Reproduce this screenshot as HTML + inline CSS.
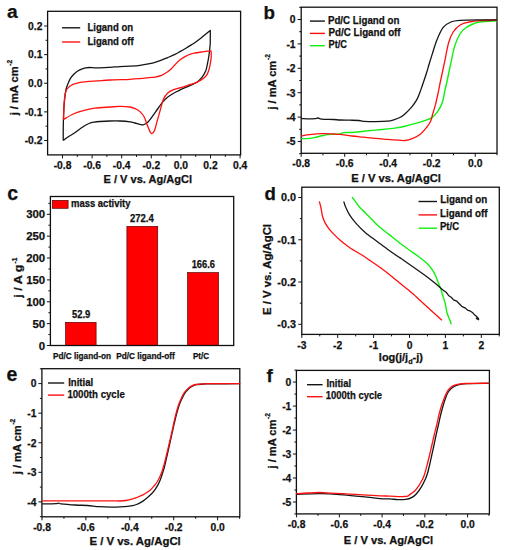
<!DOCTYPE html><html><head><meta charset="utf-8"><style>html,body{margin:0;padding:0;background:#fff;width:507px;height:550px;overflow:hidden}svg{display:block}text{font-family:"Liberation Sans",sans-serif;fill:#111;stroke:#111;stroke-width:0.25px}</style></head><body>
<svg width="507" height="550" viewBox="0 0 507 550">
<rect width="507" height="550" fill="#fff"/>
<text x="7" y="18.2" font-size="19.2" font-weight="bold" text-anchor="start" >a</text>
<rect x="47.6" y="11.3" width="193" height="143.6" fill="none" stroke="#111" stroke-width="1.3"/>
<line x1="62.5" y1="154.9" x2="62.5" y2="158.4" stroke="#111" stroke-width="1.0"/>
<line x1="92.1" y1="154.9" x2="92.1" y2="158.4" stroke="#111" stroke-width="1.0"/>
<line x1="121.7" y1="154.9" x2="121.7" y2="158.4" stroke="#111" stroke-width="1.0"/>
<line x1="151.3" y1="154.9" x2="151.3" y2="158.4" stroke="#111" stroke-width="1.0"/>
<line x1="180.9" y1="154.9" x2="180.9" y2="158.4" stroke="#111" stroke-width="1.0"/>
<line x1="210.5" y1="154.9" x2="210.5" y2="158.4" stroke="#111" stroke-width="1.0"/>
<line x1="240.1" y1="154.9" x2="240.1" y2="158.4" stroke="#111" stroke-width="1.0"/>
<line x1="77.3" y1="154.9" x2="77.3" y2="156.9" stroke="#111" stroke-width="1.0"/>
<line x1="106.9" y1="154.9" x2="106.9" y2="156.9" stroke="#111" stroke-width="1.0"/>
<line x1="136.5" y1="154.9" x2="136.5" y2="156.9" stroke="#111" stroke-width="1.0"/>
<line x1="166.1" y1="154.9" x2="166.1" y2="156.9" stroke="#111" stroke-width="1.0"/>
<line x1="195.7" y1="154.9" x2="195.7" y2="156.9" stroke="#111" stroke-width="1.0"/>
<line x1="225.3" y1="154.9" x2="225.3" y2="156.9" stroke="#111" stroke-width="1.0"/>
<line x1="44.1" y1="140.5" x2="47.6" y2="140.5" stroke="#111" stroke-width="1.0"/>
<line x1="44.1" y1="111.88" x2="47.6" y2="111.88" stroke="#111" stroke-width="1.0"/>
<line x1="44.1" y1="83.25" x2="47.6" y2="83.25" stroke="#111" stroke-width="1.0"/>
<line x1="44.1" y1="54.62" x2="47.6" y2="54.62" stroke="#111" stroke-width="1.0"/>
<line x1="44.1" y1="26" x2="47.6" y2="26" stroke="#111" stroke-width="1.0"/>
<line x1="45.6" y1="126.19" x2="47.6" y2="126.19" stroke="#111" stroke-width="1.0"/>
<line x1="45.6" y1="97.56" x2="47.6" y2="97.56" stroke="#111" stroke-width="1.0"/>
<line x1="45.6" y1="68.94" x2="47.6" y2="68.94" stroke="#111" stroke-width="1.0"/>
<line x1="45.6" y1="40.31" x2="47.6" y2="40.31" stroke="#111" stroke-width="1.0"/>
<text x="62.5" y="169" font-size="10.3" font-weight="bold" text-anchor="middle">-0.8</text>
<text x="92.1" y="169" font-size="10.3" font-weight="bold" text-anchor="middle">-0.6</text>
<text x="121.7" y="169" font-size="10.3" font-weight="bold" text-anchor="middle">-0.4</text>
<text x="151.3" y="169" font-size="10.3" font-weight="bold" text-anchor="middle">-0.2</text>
<text x="180.9" y="169" font-size="10.3" font-weight="bold" text-anchor="middle">0.0</text>
<text x="210.5" y="169" font-size="10.3" font-weight="bold" text-anchor="middle">0.2</text>
<text x="240.1" y="169" font-size="10.3" font-weight="bold" text-anchor="middle">0.4</text>
<text x="42.4" y="144.3" font-size="10.3" font-weight="bold" text-anchor="end">-0.2</text>
<text x="42.4" y="115.68" font-size="10.3" font-weight="bold" text-anchor="end">-0.1</text>
<text x="42.4" y="87.05" font-size="10.3" font-weight="bold" text-anchor="end">0.0</text>
<text x="42.4" y="58.42" font-size="10.3" font-weight="bold" text-anchor="end">0.1</text>
<text x="42.4" y="29.8" font-size="10.3" font-weight="bold" text-anchor="end">0.2</text>
<text x="147.8" y="183.1" font-size="10.6" font-weight="bold" text-anchor="middle" textLength="88.5" lengthAdjust="spacingAndGlyphs" >E / V vs. Ag/AgCl</text>
<g transform="translate(18 115.3) rotate(-90)">
<text x="0" y="0" font-size="10.8" font-weight="bold" textLength="48.8" lengthAdjust="spacingAndGlyphs">j / mA cm</text>
<text x="49.6" y="-6" font-size="6.6" font-weight="bold">-2</text>
</g>
<line x1="62.1" y1="27.8" x2="80.2" y2="27.8" stroke="#151515" stroke-width="1.4"/>
<line x1="62.1" y1="42" x2="80.2" y2="42" stroke="#ff1010" stroke-width="1.4"/>
<text x="87.5" y="31" font-size="10.2" font-weight="bold" text-anchor="start" textLength="45.6" lengthAdjust="spacingAndGlyphs" >Ligand on</text>
<text x="87.5" y="44.5" font-size="10.2" font-weight="bold" text-anchor="start" textLength="46.2" lengthAdjust="spacingAndGlyphs" >Ligand off</text>
<path d="M63.2 140.5 C63.22 137.92 63.2 130.08 63.3 125 C63.4 119.92 63.58 114.25 63.8 110 C64.02 105.75 64.25 102.83 64.6 99.5 C64.95 96.17 65.28 92.77 65.9 90 C66.52 87.23 67.52 84.88 68.3 82.9 C69.08 80.92 69.68 79.55 70.6 78.1 C71.52 76.65 72.62 75.38 73.8 74.2 C74.98 73.02 76.38 71.85 77.7 71 C79.02 70.15 80.38 69.62 81.7 69.1 C83.02 68.58 84.28 68.17 85.6 67.9 C86.92 67.63 87.63 67.5 89.6 67.5 C91.57 67.5 94 67.93 97.4 67.9 C100.8 67.87 106.23 67.52 110 67.3 C113.77 67.08 116.67 66.78 120 66.6 C123.33 66.42 126.67 66.4 130 66.2 C133.33 66 136.72 65.82 140 65.4 C143.28 64.98 147.2 64.2 149.7 63.7 C152.2 63.2 153.05 62.98 155 62.4 C156.95 61.82 159.28 61 161.4 60.2 C163.52 59.4 165.43 58.57 167.7 57.6 C169.97 56.63 172.88 55.43 175 54.4 C177.12 53.37 178.58 52.43 180.4 51.4 C182.22 50.37 184.08 49.28 185.9 48.2 C187.72 47.12 189.78 45.85 191.3 44.9 C192.82 43.95 193.32 43.7 195 42.5 C196.68 41.3 199.28 39.35 201.4 37.7 C203.52 36.05 206.22 33.8 207.7 32.6 C209.18 31.4 209.87 30.85 210.3 30.5 L210.3 30.5 C210.3 31.58 210.3 35.92 210.3 37 L210.3 37 C210.28 38.17 210.32 41.77 210.2 44 C210.08 46.23 209.83 48.32 209.6 50.4 C209.37 52.48 209.13 54.4 208.8 56.5 C208.47 58.6 208.08 60.67 207.6 63 C207.12 65.33 206.78 68.2 205.9 70.5 C205.02 72.8 203.82 74.83 202.3 76.8 C200.78 78.77 198.87 80.83 196.8 82.3 C194.73 83.77 192.58 84.37 189.9 85.6 C187.22 86.83 183.42 88.43 180.7 89.7 C177.98 90.97 175.8 91.93 173.6 93.2 C171.4 94.47 169.37 95.77 167.5 97.3 C165.63 98.83 164.1 100.37 162.4 102.4 C160.7 104.43 159 107.12 157.3 109.5 C155.6 111.88 153.9 114.48 152.2 116.7 C150.5 118.92 148.62 121.45 147.1 122.8 C145.58 124.15 144.28 124.55 143.1 124.8 C141.92 125.05 141.35 124.6 140 124.3 C138.65 124 136.67 123.42 135 123 C133.33 122.58 132.5 122.13 130 121.8 C127.5 121.47 123.33 121.13 120 121 C116.67 120.87 113.33 120.92 110 121 C106.67 121.08 102.67 121.3 100 121.5 C97.33 121.7 95.83 121.87 94 122.2 C92.17 122.53 90.58 122.9 89 123.5 C87.42 124.1 86.08 124.83 84.5 125.8 C82.92 126.77 81.38 127.97 79.5 129.3 C77.62 130.63 75.12 132.52 73.2 133.8 C71.28 135.08 69.67 135.88 68 137 C66.33 138.12 64 139.92 63.2 140.5 " fill="none" stroke="#151515" stroke-width="1.3" stroke-linejoin="round"/>
<path d="M63.5 119.5 C63.55 117.92 63.67 113.08 63.8 110 C63.93 106.92 64.07 103.67 64.3 101 C64.53 98.33 64.87 95.78 65.2 94 C65.53 92.22 65.78 91.37 66.3 90.3 C66.82 89.23 67.45 88.45 68.3 87.6 C69.15 86.75 70.22 85.85 71.4 85.2 C72.58 84.55 73.68 84.22 75.4 83.7 C77.12 83.18 79.33 82.5 81.7 82.1 C84.07 81.7 86.98 81.5 89.6 81.3 C92.22 81.1 94 81.12 97.4 80.9 C100.8 80.68 104.57 80.27 110 80 C115.43 79.73 125 79.53 130 79.3 C135 79.07 136.72 78.88 140 78.6 C143.28 78.32 147.2 77.85 149.7 77.6 C152.2 77.35 153.05 77.47 155 77.1 C156.95 76.73 159.28 76.3 161.4 75.4 C163.52 74.5 166 72.85 167.7 71.7 C169.4 70.55 170.38 69.67 171.6 68.5 C172.82 67.33 173.53 66.18 175 64.7 C176.47 63.22 178.58 61.03 180.4 59.6 C182.22 58.17 184.08 57.05 185.9 56.1 C187.72 55.15 189.78 54.42 191.3 53.9 C192.82 53.38 193.32 53.32 195 53 C196.68 52.68 199.28 52.32 201.4 52 C203.52 51.68 206.1 51.27 207.7 51.1 C209.3 50.93 210.45 51.02 211 51 L211 51 C211.03 51.33 211.17 52.67 211.2 53 L211.2 53 C211.2 53.63 211.25 55.63 211.2 56.8 C211.15 57.97 211.18 58.18 210.9 60 C210.62 61.82 210.1 65.35 209.5 67.7 C208.9 70.05 208.35 72.28 207.3 74.1 C206.25 75.92 204.95 77.23 203.2 78.6 C201.45 79.97 199.02 81.3 196.8 82.3 C194.58 83.3 192.58 83.72 189.9 84.6 C187.22 85.48 183.42 86.75 180.7 87.6 C177.98 88.45 175.8 88.77 173.6 89.7 C171.4 90.63 169.2 91.6 167.5 93.2 C165.8 94.8 164.58 96.58 163.4 99.3 C162.22 102.02 161.42 105.93 160.4 109.5 C159.38 113.07 158.32 117.13 157.3 120.7 C156.28 124.27 155.23 128.75 154.3 130.9 C153.37 133.05 152.38 133.42 151.7 133.6 C151.02 133.78 150.97 133.47 150.2 132 C149.43 130.53 148.12 127.35 147.1 124.8 C146.08 122.25 145.28 118.9 144.1 116.7 C142.92 114.5 141.35 112.88 140 111.6 C138.65 110.32 137.67 109.77 136 109 C134.33 108.23 132.67 107.43 130 107 C127.33 106.57 123.33 106.4 120 106.4 C116.67 106.4 114.17 106.7 110 107 C105.83 107.3 99.62 107.55 95 108.2 C90.38 108.85 85.93 109.93 82.3 110.9 C78.67 111.87 76.33 112.57 73.2 114 C70.07 115.43 65.12 118.58 63.5 119.5 " fill="none" stroke="#ff1010" stroke-width="1.3" stroke-linejoin="round"/>
<text x="263.5" y="19.3" font-size="18.8" font-weight="bold" text-anchor="start" >b</text>
<rect x="301.2" y="7.2" width="195.8" height="146.1" fill="none" stroke="#111" stroke-width="1.3"/>
<line x1="301.2" y1="153.3" x2="301.2" y2="156.8" stroke="#111" stroke-width="1.0"/>
<line x1="344.71" y1="153.3" x2="344.71" y2="156.8" stroke="#111" stroke-width="1.0"/>
<line x1="388.22" y1="153.3" x2="388.22" y2="156.8" stroke="#111" stroke-width="1.0"/>
<line x1="431.73" y1="153.3" x2="431.73" y2="156.8" stroke="#111" stroke-width="1.0"/>
<line x1="475.24" y1="153.3" x2="475.24" y2="156.8" stroke="#111" stroke-width="1.0"/>
<line x1="322.96" y1="153.3" x2="322.96" y2="155.3" stroke="#111" stroke-width="1.0"/>
<line x1="366.47" y1="153.3" x2="366.47" y2="155.3" stroke="#111" stroke-width="1.0"/>
<line x1="409.98" y1="153.3" x2="409.98" y2="155.3" stroke="#111" stroke-width="1.0"/>
<line x1="453.49" y1="153.3" x2="453.49" y2="155.3" stroke="#111" stroke-width="1.0"/>
<line x1="497" y1="153.3" x2="497" y2="155.3" stroke="#111" stroke-width="1.0"/>
<line x1="297.7" y1="141.5" x2="301.2" y2="141.5" stroke="#111" stroke-width="1.0"/>
<line x1="297.7" y1="117.1" x2="301.2" y2="117.1" stroke="#111" stroke-width="1.0"/>
<line x1="297.7" y1="92.7" x2="301.2" y2="92.7" stroke="#111" stroke-width="1.0"/>
<line x1="297.7" y1="68.3" x2="301.2" y2="68.3" stroke="#111" stroke-width="1.0"/>
<line x1="297.7" y1="43.9" x2="301.2" y2="43.9" stroke="#111" stroke-width="1.0"/>
<line x1="297.7" y1="19.5" x2="301.2" y2="19.5" stroke="#111" stroke-width="1.0"/>
<line x1="299.2" y1="153.7" x2="301.2" y2="153.7" stroke="#111" stroke-width="1.0"/>
<line x1="299.2" y1="129.3" x2="301.2" y2="129.3" stroke="#111" stroke-width="1.0"/>
<line x1="299.2" y1="104.9" x2="301.2" y2="104.9" stroke="#111" stroke-width="1.0"/>
<line x1="299.2" y1="80.5" x2="301.2" y2="80.5" stroke="#111" stroke-width="1.0"/>
<line x1="299.2" y1="56.1" x2="301.2" y2="56.1" stroke="#111" stroke-width="1.0"/>
<line x1="299.2" y1="31.7" x2="301.2" y2="31.7" stroke="#111" stroke-width="1.0"/>
<line x1="299.2" y1="7.3" x2="301.2" y2="7.3" stroke="#111" stroke-width="1.0"/>
<text x="301.2" y="167" font-size="10.3" font-weight="bold" text-anchor="middle">-0.8</text>
<text x="344.71" y="167" font-size="10.3" font-weight="bold" text-anchor="middle">-0.6</text>
<text x="388.22" y="167" font-size="10.3" font-weight="bold" text-anchor="middle">-0.4</text>
<text x="431.73" y="167" font-size="10.3" font-weight="bold" text-anchor="middle">-0.2</text>
<text x="475.24" y="167" font-size="10.3" font-weight="bold" text-anchor="middle">0.0</text>
<text x="295.6" y="145.3" font-size="10.3" font-weight="bold" text-anchor="end">-5</text>
<text x="295.6" y="120.9" font-size="10.3" font-weight="bold" text-anchor="end">-4</text>
<text x="295.6" y="96.5" font-size="10.3" font-weight="bold" text-anchor="end">-3</text>
<text x="295.6" y="72.1" font-size="10.3" font-weight="bold" text-anchor="end">-2</text>
<text x="295.6" y="47.7" font-size="10.3" font-weight="bold" text-anchor="end">-1</text>
<text x="295.6" y="23.3" font-size="10.3" font-weight="bold" text-anchor="end">0</text>
<text x="396.1" y="182.1" font-size="10.6" font-weight="bold" text-anchor="middle" textLength="89.8" lengthAdjust="spacingAndGlyphs" >E / V vs. Ag/AgCl</text>
<g transform="translate(276.1 109.6) rotate(-90)">
<text x="0" y="0" font-size="10.8" font-weight="bold" textLength="48.8" lengthAdjust="spacingAndGlyphs">j / mA cm</text>
<text x="49.6" y="-6" font-size="6.6" font-weight="bold">-2</text>
</g>
<line x1="309.9" y1="21.1" x2="324.9" y2="21.1" stroke="#151515" stroke-width="1.4"/>
<line x1="309.9" y1="33.4" x2="324.9" y2="33.4" stroke="#ff1010" stroke-width="1.4"/>
<line x1="309.9" y1="45.7" x2="324.9" y2="45.7" stroke="#10f010" stroke-width="1.4"/>
<text x="327.9" y="23.8" font-size="10.2" font-weight="bold" text-anchor="start" textLength="71.5" lengthAdjust="spacingAndGlyphs" >Pd/C Ligand on</text>
<text x="328.6" y="35.9" font-size="10.2" font-weight="bold" text-anchor="start" textLength="72" lengthAdjust="spacingAndGlyphs" >Pd/C Ligand off</text>
<text x="328.6" y="48.2" font-size="10.2" font-weight="bold" text-anchor="start" textLength="18.4" lengthAdjust="spacingAndGlyphs" >Pt/C</text>
<path d="M301.6 138.6 C302.97 138.57 307.43 138.63 309.8 138.4 C312.17 138.17 313.82 137.63 315.8 137.2 C317.78 136.77 319.73 136.23 321.7 135.8 C323.67 135.37 325.63 134.85 327.6 134.6 C329.57 134.35 331.43 134.4 333.5 134.3 C335.57 134.2 338.32 134.28 340 134 C341.68 133.72 341.63 132.85 343.6 132.6 C345.57 132.35 348.45 132.72 351.8 132.5 C355.15 132.28 359.75 131.7 363.7 131.3 C367.65 130.9 371.57 130.5 375.5 130.1 C379.43 129.7 384.05 129.23 387.3 128.9 C390.55 128.57 392.07 128.53 395 128.1 C397.93 127.67 401.62 127.05 404.9 126.3 C408.18 125.55 411.42 124.55 414.7 123.6 C417.98 122.65 421.72 121.58 424.6 120.6 C427.48 119.62 429.87 119.17 432 117.7 C434.13 116.23 435.83 113.93 437.4 111.8 C438.97 109.67 440.43 107.03 441.4 104.9 C442.37 102.77 442.6 101.48 443.2 99 C443.8 96.52 444.37 92.92 445 90 C445.63 87.08 446.02 86.02 447 81.5 C447.98 76.98 449.6 68.83 450.9 62.9 C452.2 56.97 453.25 50.8 454.8 45.9 C456.35 41 458.27 36.58 460.2 33.5 C462.13 30.42 464.08 29.07 466.4 27.4 C468.72 25.73 471.83 24.4 474.1 23.5 C476.37 22.6 476.23 22.45 480 22 C483.77 21.55 493.92 21 496.7 20.8" fill="none" stroke="#10f010" stroke-width="1.4" stroke-linejoin="round" stroke-linecap="round" />
<path d="M301.6 135.8 C302.97 135.6 306.45 134.95 309.8 134.6 C313.15 134.25 317.75 133.8 321.7 133.7 C325.65 133.6 330.45 133.88 333.5 134 C336.55 134.12 336.95 134.07 340 134.4 C343.05 134.73 347.85 135.53 351.8 136 C355.75 136.47 359.75 136.8 363.7 137.2 C367.65 137.6 371.57 138.05 375.5 138.4 C379.43 138.75 384.05 139.05 387.3 139.3 C390.55 139.55 392.07 139.7 395 139.9 C397.93 140.1 401.93 140.75 404.9 140.5 C407.87 140.25 410.18 139.48 412.8 138.4 C415.42 137.32 418.3 135.82 420.6 134 C422.9 132.18 424.95 129.57 426.6 127.5 C428.25 125.43 429.52 123.73 430.5 121.6 C431.48 119.47 431.68 117.48 432.5 114.7 C433.32 111.92 434.5 108.35 435.4 104.9 C436.3 101.45 437.12 97.65 437.9 94 C438.68 90.35 438.97 88.43 440.1 83 C441.23 77.57 443.28 68.1 444.7 61.4 C446.12 54.7 447.18 47.7 448.6 42.8 C450.02 37.9 451.27 34.97 453.2 32 C455.13 29.03 457.48 26.67 460.2 25 C462.92 23.33 466.2 22.73 469.5 22 C472.8 21.27 475.47 20.9 480 20.6 C484.53 20.3 493.92 20.27 496.7 20.2" fill="none" stroke="#ff1010" stroke-width="1.3" stroke-linejoin="round" stroke-linecap="round" />
<path d="M301.6 118.6 C302.97 118.65 307.57 118.9 309.8 118.9 C312.03 118.9 313.62 118.75 315 118.6 C316.38 118.45 316.98 117.92 318.1 118 C319.22 118.08 319.13 118.85 321.7 119.1 C324.27 119.35 330.45 119.35 333.5 119.5 C336.55 119.65 337.25 119.88 340 120 C342.75 120.12 346.85 120.12 350 120.2 C353.15 120.28 356.62 120.32 358.9 120.5 C361.18 120.68 360.93 121.1 363.7 121.3 C366.47 121.5 371.57 121.72 375.5 121.7 C379.43 121.68 384.15 121.55 387.3 121.2 C390.45 120.85 392.32 120.22 394.4 119.6 C396.48 118.98 398.05 118.45 399.8 117.5 C401.55 116.55 402.9 115.68 404.9 113.9 C406.9 112.12 409.83 109.13 411.8 106.8 C413.77 104.47 415.42 102.12 416.7 99.9 C417.98 97.68 418.53 95.98 419.5 93.5 C420.47 91.02 421.38 88.25 422.5 85 C423.62 81.75 425.07 77.58 426.2 74 C427.33 70.42 428.27 66.9 429.3 63.5 C430.33 60.1 431.12 57.57 432.4 53.6 C433.68 49.63 435.2 44.07 437 39.7 C438.8 35.33 440.88 30.35 443.2 27.4 C445.52 24.45 448.07 23.17 450.9 22 C453.73 20.83 455.35 20.75 460.2 20.4 C465.05 20.05 473.92 19.98 480 19.9 C486.08 19.82 493.92 19.9 496.7 19.9" fill="none" stroke="#151515" stroke-width="1.3" stroke-linejoin="round" stroke-linecap="round" />
<text x="7.2" y="199.6" font-size="19.5" font-weight="bold" text-anchor="start" >c</text>
<rect x="65.6" y="322.37" width="30.5" height="23.13" fill="#ff0000" stroke="#5a0000" stroke-width="0.7"/>
<rect x="126.9" y="226.37" width="30.8" height="119.13" fill="#ff0000" stroke="#5a0000" stroke-width="0.7"/>
<rect x="187.6" y="272.64" width="30.9" height="72.86" fill="#ff0000" stroke="#5a0000" stroke-width="0.7"/>
<rect x="50.4" y="196.5" width="183.3" height="149" fill="none" stroke="#111" stroke-width="1.3"/>
<line x1="46.9" y1="345.5" x2="50.4" y2="345.5" stroke="#111" stroke-width="1.0"/>
<line x1="46.9" y1="323.63" x2="50.4" y2="323.63" stroke="#111" stroke-width="1.0"/>
<line x1="46.9" y1="301.77" x2="50.4" y2="301.77" stroke="#111" stroke-width="1.0"/>
<line x1="46.9" y1="279.9" x2="50.4" y2="279.9" stroke="#111" stroke-width="1.0"/>
<line x1="46.9" y1="258.03" x2="50.4" y2="258.03" stroke="#111" stroke-width="1.0"/>
<line x1="46.9" y1="236.17" x2="50.4" y2="236.17" stroke="#111" stroke-width="1.0"/>
<line x1="46.9" y1="214.3" x2="50.4" y2="214.3" stroke="#111" stroke-width="1.0"/>
<line x1="48.4" y1="334.57" x2="50.4" y2="334.57" stroke="#111" stroke-width="1.0"/>
<line x1="48.4" y1="312.7" x2="50.4" y2="312.7" stroke="#111" stroke-width="1.0"/>
<line x1="48.4" y1="290.83" x2="50.4" y2="290.83" stroke="#111" stroke-width="1.0"/>
<line x1="48.4" y1="268.97" x2="50.4" y2="268.97" stroke="#111" stroke-width="1.0"/>
<line x1="48.4" y1="247.1" x2="50.4" y2="247.1" stroke="#111" stroke-width="1.0"/>
<line x1="48.4" y1="225.23" x2="50.4" y2="225.23" stroke="#111" stroke-width="1.0"/>
<line x1="48.4" y1="203.37" x2="50.4" y2="203.37" stroke="#111" stroke-width="1.0"/>
<text x="45.2" y="349.5" font-size="11.4" font-weight="bold" text-anchor="end">0</text>
<text x="45.2" y="327.63" font-size="11.4" font-weight="bold" text-anchor="end">50</text>
<text x="45.2" y="305.77" font-size="11.4" font-weight="bold" text-anchor="end">100</text>
<text x="45.2" y="283.9" font-size="11.4" font-weight="bold" text-anchor="end">150</text>
<text x="45.2" y="262.03" font-size="11.4" font-weight="bold" text-anchor="end">200</text>
<text x="45.2" y="240.17" font-size="11.4" font-weight="bold" text-anchor="end">250</text>
<text x="45.2" y="218.3" font-size="11.4" font-weight="bold" text-anchor="end">300</text>
<text x="81.1" y="318.2" font-size="10.3" font-weight="bold" text-anchor="middle" textLength="18.3" lengthAdjust="spacingAndGlyphs" >52.9</text>
<text x="141.8" y="222.1" font-size="10.3" font-weight="bold" text-anchor="middle" textLength="23.8" lengthAdjust="spacingAndGlyphs" >272.4</text>
<text x="203.3" y="268.4" font-size="10.3" font-weight="bold" text-anchor="middle" textLength="23.3" lengthAdjust="spacingAndGlyphs" >166.6</text>
<text x="82" y="359.2" font-size="8.2" font-weight="bold" text-anchor="middle" textLength="57.9" lengthAdjust="spacingAndGlyphs" >Pd/C ligand-on</text>
<text x="145.5" y="359.2" font-size="8.2" font-weight="bold" text-anchor="middle" textLength="58.7" lengthAdjust="spacingAndGlyphs" >Pd/C ligand-off</text>
<text x="201" y="359.2" font-size="8.2" font-weight="bold" text-anchor="middle" textLength="16.2" lengthAdjust="spacingAndGlyphs" >Pt/C</text>
<g transform="translate(22.4 297.8) rotate(-90)">
<text x="0" y="0" font-size="10.6" font-weight="bold" textLength="33.3" lengthAdjust="spacingAndGlyphs">j / A g</text>
<text x="34.3" y="-5.2" font-size="6.6" font-weight="bold">-1</text>
</g>
<rect x="52.3" y="200.4" width="15.8" height="7.9" fill="#ff0000" stroke="#5a0000" stroke-width="0.7"/>
<text x="71" y="207.4" font-size="10.0" font-weight="bold" text-anchor="start" textLength="59.5" lengthAdjust="spacingAndGlyphs" >mass activity</text>
<text x="264.6" y="200" font-size="18.6" font-weight="bold" text-anchor="start" >d</text>
<rect x="301.8" y="187.2" width="197.5" height="147.2" fill="none" stroke="#111" stroke-width="1.3"/>
<line x1="301.8" y1="334.4" x2="301.8" y2="337.9" stroke="#111" stroke-width="1.0"/>
<line x1="337.7" y1="334.4" x2="337.7" y2="337.9" stroke="#111" stroke-width="1.0"/>
<line x1="373.6" y1="334.4" x2="373.6" y2="337.9" stroke="#111" stroke-width="1.0"/>
<line x1="409.5" y1="334.4" x2="409.5" y2="337.9" stroke="#111" stroke-width="1.0"/>
<line x1="445.4" y1="334.4" x2="445.4" y2="337.9" stroke="#111" stroke-width="1.0"/>
<line x1="481.3" y1="334.4" x2="481.3" y2="337.9" stroke="#111" stroke-width="1.0"/>
<line x1="319.75" y1="334.4" x2="319.75" y2="336.4" stroke="#111" stroke-width="1.0"/>
<line x1="355.65" y1="334.4" x2="355.65" y2="336.4" stroke="#111" stroke-width="1.0"/>
<line x1="391.55" y1="334.4" x2="391.55" y2="336.4" stroke="#111" stroke-width="1.0"/>
<line x1="427.45" y1="334.4" x2="427.45" y2="336.4" stroke="#111" stroke-width="1.0"/>
<line x1="463.35" y1="334.4" x2="463.35" y2="336.4" stroke="#111" stroke-width="1.0"/>
<line x1="499.25" y1="334.4" x2="499.25" y2="336.4" stroke="#111" stroke-width="1.0"/>
<line x1="298.3" y1="324.3" x2="301.8" y2="324.3" stroke="#111" stroke-width="1.0"/>
<line x1="298.3" y1="282.03" x2="301.8" y2="282.03" stroke="#111" stroke-width="1.0"/>
<line x1="298.3" y1="239.77" x2="301.8" y2="239.77" stroke="#111" stroke-width="1.0"/>
<line x1="298.3" y1="197.5" x2="301.8" y2="197.5" stroke="#111" stroke-width="1.0"/>
<line x1="299.8" y1="303.17" x2="301.8" y2="303.17" stroke="#111" stroke-width="1.0"/>
<line x1="299.8" y1="260.9" x2="301.8" y2="260.9" stroke="#111" stroke-width="1.0"/>
<line x1="299.8" y1="218.63" x2="301.8" y2="218.63" stroke="#111" stroke-width="1.0"/>
<text x="301.8" y="349" font-size="10.3" font-weight="bold" text-anchor="middle">-3</text>
<text x="337.7" y="349" font-size="10.3" font-weight="bold" text-anchor="middle">-2</text>
<text x="373.6" y="349" font-size="10.3" font-weight="bold" text-anchor="middle">-1</text>
<text x="409.5" y="349" font-size="10.3" font-weight="bold" text-anchor="middle">0</text>
<text x="445.4" y="349" font-size="10.3" font-weight="bold" text-anchor="middle">1</text>
<text x="481.3" y="349" font-size="10.3" font-weight="bold" text-anchor="middle">2</text>
<text x="295.9" y="328.1" font-size="10.8" font-weight="bold" text-anchor="end">-0.3</text>
<text x="295.9" y="285.83" font-size="10.8" font-weight="bold" text-anchor="end">-0.2</text>
<text x="295.9" y="243.57" font-size="10.8" font-weight="bold" text-anchor="end">-0.1</text>
<text x="295.9" y="201.3" font-size="10.8" font-weight="bold" text-anchor="end">0.0</text>
<text x="400.9" y="361.0" font-size="11.0" font-weight="bold" text-anchor="middle">log(j/j<tspan font-size="7.2" dy="2.6">d</tspan><tspan dy="-2.6">-j)</tspan></text>
<g transform="translate(271.2 269.5) rotate(-90)"><text x="0" y="0" font-size="11.0" font-weight="bold" text-anchor="middle" textLength="91" lengthAdjust="spacingAndGlyphs">E / V vs. Ag/AgCl</text></g>
<line x1="418.5" y1="201.5" x2="437" y2="201.5" stroke="#151515" stroke-width="1.4"/>
<line x1="418.5" y1="214.9" x2="437" y2="214.9" stroke="#ff1010" stroke-width="1.4"/>
<line x1="418.5" y1="228.2" x2="437" y2="228.2" stroke="#10f010" stroke-width="1.4"/>
<text x="440.2" y="203.4" font-size="10.2" font-weight="bold" text-anchor="start" textLength="47" lengthAdjust="spacingAndGlyphs" >Ligand on</text>
<text x="440" y="216.8" font-size="10.2" font-weight="bold" text-anchor="start" textLength="47.6" lengthAdjust="spacingAndGlyphs" >Ligand off</text>
<text x="440" y="230.4" font-size="10.2" font-weight="bold" text-anchor="start" textLength="19" lengthAdjust="spacingAndGlyphs" >Pt/C</text>
<path d="M319.5 202 C319.63 202.5 320.05 204 320.3 205 C320.55 206 320.75 206.75 321 208 C321.25 209.25 321.52 211 321.8 212.5 C322.08 214 322.17 215.32 322.7 217 C323.23 218.68 323.95 220.63 325 222.6 C326.05 224.57 327.33 226.67 329 228.8 C330.67 230.93 333.18 233.55 335 235.4 C336.82 237.25 338.25 238.45 339.9 239.9 C341.55 241.35 343.25 242.8 344.9 244.1 C346.55 245.4 348.17 246.6 349.8 247.7 C351.43 248.8 353.05 249.7 354.7 250.7 C356.35 251.7 358.05 252.7 359.7 253.7 C361.35 254.7 362.97 255.63 364.6 256.7 C366.23 257.77 367.87 258.97 369.5 260.1 C371.13 261.23 372.75 262.35 374.4 263.5 C376.05 264.65 377.67 265.77 379.4 267 C381.13 268.23 382.53 269.17 384.8 270.9 C387.07 272.63 390.3 275.2 393 277.4 C395.7 279.6 398.17 281.78 401 284.1 C403.83 286.42 406.83 288.6 410 291.3 C413.17 294 416.67 297.28 420 300.3 C423.33 303.32 426.4 306.13 430 309.4 C433.6 312.67 439.67 318.15 441.6 319.9" fill="none" stroke="#ff1010" stroke-width="1.3" stroke-linejoin="round" stroke-linecap="round" />
<path d="M352.4 197.4 C353.55 198.97 356.5 203.58 359.3 206.8 C362.1 210.02 365.92 213.4 369.2 216.7 C372.48 220 375.72 223.65 379 226.6 C382.28 229.55 385.6 231.78 388.9 234.4 C392.2 237.02 396.95 240.82 398.8 242.3 C400.65 243.78 398.32 242.05 400 243.3 C401.68 244.55 405.93 247.68 408.9 249.8 C411.87 251.92 414.85 253.78 417.8 256 C420.75 258.22 424.23 260.88 426.6 263.1 C428.97 265.32 430.52 267.23 432 269.3 C433.48 271.37 434.47 273.28 435.5 275.5 C436.53 277.72 437.37 280.53 438.2 282.6 C439.03 284.67 439.77 285.83 440.5 287.9 C441.23 289.97 441.8 292.33 442.6 295 C443.4 297.67 444.57 300.93 445.3 303.9 C446.03 306.87 446.32 310.28 447 312.8 C447.68 315.32 448.72 317.17 449.4 319 C450.08 320.83 450.82 323 451.1 323.8" fill="none" stroke="#10f010" stroke-width="1.4" stroke-linejoin="round" stroke-linecap="round" />
<polyline points="400,257.8 408.9,264 417.8,270.2 426.6,276.4 435.5,283.5 442.6,289.7 446.5,292.6 448.5,295.4 451.5,297.5 453.5,299.8 456.8,301.2 460,304.5 462.1,306.6 465,307.8 467.5,310.1 470.5,311.2 472.8,312.8 474.5,314.8 476.3,316.3 478.5,318.5 476.3,318.4 479.2,320" fill="none" stroke="#151515" stroke-width="1.25" stroke-linejoin="round"/>
<path d="M343.9 201.9 C344.17 202.72 344.58 204.67 345.5 206.8 C346.42 208.93 347.75 212.07 349.4 214.7 C351.05 217.33 352.77 219.63 355.4 222.6 C358.03 225.57 361.58 229.37 365.2 232.5 C368.82 235.63 373.15 238.45 377.1 241.4 C381.05 244.35 385.28 247.58 388.9 250.2 C392.52 252.82 396.95 255.83 398.8 257.1 C400.65 258.37 399.8 257.68 400 257.8" fill="none" stroke="#151515" stroke-width="1.25" stroke-linejoin="round" stroke-linecap="round" />
<text x="6.6" y="380.6" font-size="19.5" font-weight="bold" text-anchor="start" >e</text>
<rect x="41.9" y="368.7" width="197.9" height="148.1" fill="none" stroke="#111" stroke-width="1.3"/>
<line x1="42" y1="516.8" x2="42" y2="520.3" stroke="#111" stroke-width="1.0"/>
<line x1="85.9" y1="516.8" x2="85.9" y2="520.3" stroke="#111" stroke-width="1.0"/>
<line x1="129.8" y1="516.8" x2="129.8" y2="520.3" stroke="#111" stroke-width="1.0"/>
<line x1="173.7" y1="516.8" x2="173.7" y2="520.3" stroke="#111" stroke-width="1.0"/>
<line x1="217.6" y1="516.8" x2="217.6" y2="520.3" stroke="#111" stroke-width="1.0"/>
<line x1="63.95" y1="516.8" x2="63.95" y2="518.8" stroke="#111" stroke-width="1.0"/>
<line x1="107.85" y1="516.8" x2="107.85" y2="518.8" stroke="#111" stroke-width="1.0"/>
<line x1="151.75" y1="516.8" x2="151.75" y2="518.8" stroke="#111" stroke-width="1.0"/>
<line x1="195.65" y1="516.8" x2="195.65" y2="518.8" stroke="#111" stroke-width="1.0"/>
<line x1="239.55" y1="516.8" x2="239.55" y2="518.8" stroke="#111" stroke-width="1.0"/>
<line x1="38.4" y1="501.9" x2="41.9" y2="501.9" stroke="#111" stroke-width="1.0"/>
<line x1="38.4" y1="472.32" x2="41.9" y2="472.32" stroke="#111" stroke-width="1.0"/>
<line x1="38.4" y1="442.75" x2="41.9" y2="442.75" stroke="#111" stroke-width="1.0"/>
<line x1="38.4" y1="413.18" x2="41.9" y2="413.18" stroke="#111" stroke-width="1.0"/>
<line x1="38.4" y1="383.6" x2="41.9" y2="383.6" stroke="#111" stroke-width="1.0"/>
<line x1="39.9" y1="516.69" x2="41.9" y2="516.69" stroke="#111" stroke-width="1.0"/>
<line x1="39.9" y1="487.11" x2="41.9" y2="487.11" stroke="#111" stroke-width="1.0"/>
<line x1="39.9" y1="457.54" x2="41.9" y2="457.54" stroke="#111" stroke-width="1.0"/>
<line x1="39.9" y1="427.96" x2="41.9" y2="427.96" stroke="#111" stroke-width="1.0"/>
<line x1="39.9" y1="398.39" x2="41.9" y2="398.39" stroke="#111" stroke-width="1.0"/>
<line x1="39.9" y1="368.81" x2="41.9" y2="368.81" stroke="#111" stroke-width="1.0"/>
<text x="42" y="531" font-size="10.3" font-weight="bold" text-anchor="middle">-0.8</text>
<text x="85.9" y="531" font-size="10.3" font-weight="bold" text-anchor="middle">-0.6</text>
<text x="129.8" y="531" font-size="10.3" font-weight="bold" text-anchor="middle">-0.4</text>
<text x="173.7" y="531" font-size="10.3" font-weight="bold" text-anchor="middle">-0.2</text>
<text x="217.6" y="531" font-size="10.3" font-weight="bold" text-anchor="middle">0.0</text>
<text x="36.4" y="505.7" font-size="10.3" font-weight="bold" text-anchor="end">-4</text>
<text x="36.4" y="476.12" font-size="10.3" font-weight="bold" text-anchor="end">-3</text>
<text x="36.4" y="446.55" font-size="10.3" font-weight="bold" text-anchor="end">-2</text>
<text x="36.4" y="416.98" font-size="10.3" font-weight="bold" text-anchor="end">-1</text>
<text x="36.4" y="387.4" font-size="10.3" font-weight="bold" text-anchor="end">0</text>
<text x="135.1" y="545.3" font-size="10.6" font-weight="bold" text-anchor="middle" textLength="91.4" lengthAdjust="spacingAndGlyphs" >E / V vs. Ag/AgCl</text>
<g transform="translate(21.3 474.2) rotate(-90)">
<text x="0" y="0" font-size="10.8" font-weight="bold" textLength="48.8" lengthAdjust="spacingAndGlyphs">j / mA cm</text>
<text x="49.6" y="-6" font-size="6.6" font-weight="bold">-2</text>
</g>
<line x1="48" y1="383" x2="64.2" y2="383" stroke="#151515" stroke-width="1.4"/>
<line x1="48" y1="395.1" x2="64.2" y2="395.1" stroke="#ff1010" stroke-width="1.4"/>
<text x="68.2" y="385.5" font-size="10.2" font-weight="bold" text-anchor="start" textLength="25" lengthAdjust="spacingAndGlyphs" >Initial</text>
<text x="67.4" y="397.5" font-size="10.2" font-weight="bold" text-anchor="start" textLength="57.4" lengthAdjust="spacingAndGlyphs" >1000th cycle</text>
<path d="M42.4 503.8 C43.67 503.8 47.73 503.82 50 503.8 C52.27 503.78 54.52 503.82 56 503.7 C57.48 503.58 58.07 503.08 58.9 503.1 C59.73 503.12 58.23 503.48 61 503.8 C63.77 504.12 71.12 504.72 75.5 505 C79.88 505.28 83.35 505.22 87.3 505.5 C91.25 505.78 95.25 506.42 99.2 506.7 C103.15 506.98 107.53 507.17 111 507.2 C114.47 507.23 116.38 507.17 120 506.9 C123.62 506.63 129.7 506.12 132.7 505.6 C135.7 505.08 136.3 504.55 138 503.8 C139.7 503.05 141.32 502.15 142.9 501.1 C144.48 500.05 146.02 498.77 147.5 497.5 C148.98 496.23 150.52 494.87 151.8 493.5 C153.08 492.13 154.13 490.82 155.2 489.3 C156.27 487.78 157.3 486.12 158.2 484.4 C159.1 482.68 159.87 480.9 160.6 479 C161.33 477.1 161.95 475.08 162.6 473 C163.25 470.92 163.73 469.5 164.5 466.5 C165.27 463.5 166.28 459 167.2 455 C168.12 451 169.05 446.75 170 442.5 C170.95 438.25 171.92 433.83 172.9 429.5 C173.88 425.17 174.92 420.38 175.9 416.5 C176.88 412.62 177.9 408.95 178.8 406.2 C179.7 403.45 180.37 402.07 181.3 400 C182.23 397.93 183.22 395.63 184.4 393.8 C185.58 391.97 187.08 390.27 188.4 389 C189.72 387.73 191 386.92 192.3 386.2 C193.6 385.48 194.25 385.07 196.2 384.7 C198.15 384.33 201.37 384.15 204 384 C206.63 383.85 206.07 383.85 212 383.8 C217.93 383.75 235 383.72 239.6 383.7" fill="none" stroke="#151515" stroke-width="1.3" stroke-linejoin="round" stroke-linecap="round" />
<path d="M42.4 500.8 C45.95 500.8 56.22 500.8 63.7 500.8 C71.18 500.8 79.42 500.8 87.3 500.8 C95.18 500.8 105.55 500.77 111 500.8 C116.45 500.83 117.5 501.05 120 501 C122.5 500.95 123.88 500.85 126 500.5 C128.12 500.15 130.7 499.48 132.7 498.9 C134.7 498.32 136.3 497.68 138 497 C139.7 496.32 141.43 495.55 142.9 494.8 C144.37 494.05 145.52 493.35 146.8 492.5 C148.08 491.65 149.4 490.78 150.6 489.7 C151.8 488.62 152.92 487.28 154 486 C155.08 484.72 156.18 483.42 157.1 482 C158.02 480.58 158.75 479.08 159.5 477.5 C160.25 475.92 160.9 474.42 161.6 472.5 C162.3 470.58 162.85 469.08 163.7 466 C164.55 462.92 165.72 458 166.7 454 C167.68 450 168.63 446.15 169.6 442 C170.57 437.85 171.55 433.37 172.5 429.1 C173.45 424.83 174.35 420.25 175.3 416.4 C176.25 412.55 177.3 408.78 178.2 406 C179.1 403.22 179.77 401.8 180.7 399.7 C181.63 397.6 182.62 395.25 183.8 393.4 C184.98 391.55 186.48 389.85 187.8 388.6 C189.12 387.35 190.38 386.58 191.7 385.9 C193.02 385.22 193.72 384.83 195.7 384.5 C197.68 384.17 200.88 384.03 203.6 383.9 C206.32 383.77 206 383.75 212 383.7 C218 383.65 235 383.62 239.6 383.6" fill="none" stroke="#ff1010" stroke-width="1.3" stroke-linejoin="round" stroke-linecap="round" />
<text x="266.4" y="381.8" font-size="18.8" font-weight="bold" text-anchor="start" >f</text>
<rect x="296.4" y="370.4" width="193" height="143.5" fill="none" stroke="#111" stroke-width="1.3"/>
<line x1="296.6" y1="513.9" x2="296.6" y2="517.4" stroke="#111" stroke-width="1.0"/>
<line x1="339.35" y1="513.9" x2="339.35" y2="517.4" stroke="#111" stroke-width="1.0"/>
<line x1="382.1" y1="513.9" x2="382.1" y2="517.4" stroke="#111" stroke-width="1.0"/>
<line x1="424.85" y1="513.9" x2="424.85" y2="517.4" stroke="#111" stroke-width="1.0"/>
<line x1="467.6" y1="513.9" x2="467.6" y2="517.4" stroke="#111" stroke-width="1.0"/>
<line x1="317.98" y1="513.9" x2="317.98" y2="515.9" stroke="#111" stroke-width="1.0"/>
<line x1="360.73" y1="513.9" x2="360.73" y2="515.9" stroke="#111" stroke-width="1.0"/>
<line x1="403.48" y1="513.9" x2="403.48" y2="515.9" stroke="#111" stroke-width="1.0"/>
<line x1="446.23" y1="513.9" x2="446.23" y2="515.9" stroke="#111" stroke-width="1.0"/>
<line x1="488.98" y1="513.9" x2="488.98" y2="515.9" stroke="#111" stroke-width="1.0"/>
<line x1="292.9" y1="502" x2="296.4" y2="502" stroke="#111" stroke-width="1.0"/>
<line x1="292.9" y1="478.02" x2="296.4" y2="478.02" stroke="#111" stroke-width="1.0"/>
<line x1="292.9" y1="454.04" x2="296.4" y2="454.04" stroke="#111" stroke-width="1.0"/>
<line x1="292.9" y1="430.06" x2="296.4" y2="430.06" stroke="#111" stroke-width="1.0"/>
<line x1="292.9" y1="406.08" x2="296.4" y2="406.08" stroke="#111" stroke-width="1.0"/>
<line x1="292.9" y1="382.1" x2="296.4" y2="382.1" stroke="#111" stroke-width="1.0"/>
<line x1="294.4" y1="513.99" x2="296.4" y2="513.99" stroke="#111" stroke-width="1.0"/>
<line x1="294.4" y1="490.01" x2="296.4" y2="490.01" stroke="#111" stroke-width="1.0"/>
<line x1="294.4" y1="466.03" x2="296.4" y2="466.03" stroke="#111" stroke-width="1.0"/>
<line x1="294.4" y1="442.05" x2="296.4" y2="442.05" stroke="#111" stroke-width="1.0"/>
<line x1="294.4" y1="418.07" x2="296.4" y2="418.07" stroke="#111" stroke-width="1.0"/>
<line x1="294.4" y1="394.09" x2="296.4" y2="394.09" stroke="#111" stroke-width="1.0"/>
<line x1="294.4" y1="370.11" x2="296.4" y2="370.11" stroke="#111" stroke-width="1.0"/>
<text x="296.6" y="527.8" font-size="10.3" font-weight="bold" text-anchor="middle">-0.8</text>
<text x="339.35" y="527.8" font-size="10.3" font-weight="bold" text-anchor="middle">-0.6</text>
<text x="382.1" y="527.8" font-size="10.3" font-weight="bold" text-anchor="middle">-0.4</text>
<text x="424.85" y="527.8" font-size="10.3" font-weight="bold" text-anchor="middle">-0.2</text>
<text x="467.6" y="527.8" font-size="10.3" font-weight="bold" text-anchor="middle">0.0</text>
<text x="291.3" y="505.8" font-size="10.3" font-weight="bold" text-anchor="end">-5</text>
<text x="291.3" y="481.82" font-size="10.3" font-weight="bold" text-anchor="end">-4</text>
<text x="291.3" y="457.84" font-size="10.3" font-weight="bold" text-anchor="end">-3</text>
<text x="291.3" y="433.86" font-size="10.3" font-weight="bold" text-anchor="end">-2</text>
<text x="291.3" y="409.88" font-size="10.3" font-weight="bold" text-anchor="end">-1</text>
<text x="291.3" y="385.9" font-size="10.3" font-weight="bold" text-anchor="end">0</text>
<text x="388.4" y="544.3" font-size="10.6" font-weight="bold" text-anchor="middle" textLength="89.3" lengthAdjust="spacingAndGlyphs" >E / V vs. Ag/AgCl</text>
<g transform="translate(276.3 468.5) rotate(-90)">
<text x="0" y="0" font-size="10.8" font-weight="bold" textLength="48.8" lengthAdjust="spacingAndGlyphs">j / mA cm</text>
<text x="49.6" y="-6" font-size="6.6" font-weight="bold">-2</text>
</g>
<line x1="307" y1="384.7" x2="322.6" y2="384.7" stroke="#151515" stroke-width="1.4"/>
<line x1="307" y1="396.7" x2="322.6" y2="396.7" stroke="#ff1010" stroke-width="1.4"/>
<text x="326.5" y="387.4" font-size="10.2" font-weight="bold" text-anchor="start" textLength="24.5" lengthAdjust="spacingAndGlyphs" >Initial</text>
<text x="325.8" y="399" font-size="10.2" font-weight="bold" text-anchor="start" textLength="56.3" lengthAdjust="spacingAndGlyphs" >1000th cycle</text>
<path d="M296.5 494.4 C300.37 494.28 311.9 493.62 319.7 493.7 C327.5 493.78 335.42 494.32 343.3 494.9 C351.18 495.48 360.88 496.58 367 497.2 C373.12 497.82 376.18 498.32 380 498.6 C383.82 498.88 386.93 498.73 389.9 498.9 C392.87 499.07 395.18 499.52 397.8 499.6 C400.42 499.68 403.3 499.73 405.6 499.4 C407.9 499.07 409.78 498.55 411.6 497.6 C413.42 496.65 414.87 495.5 416.5 493.7 C418.13 491.9 419.92 489.27 421.4 486.8 C422.88 484.33 424.42 481.03 425.4 478.9 C426.38 476.77 426.6 476.32 427.3 474 C428 471.68 428.85 468.17 429.6 465 C430.35 461.83 431.07 458.33 431.8 455 C432.53 451.67 433.28 448.33 434 445 C434.72 441.67 435.37 438.33 436.1 435 C436.83 431.67 437.65 428.33 438.4 425 C439.15 421.67 439.78 418.33 440.6 415 C441.42 411.67 442.35 408.17 443.3 405 C444.25 401.83 445.42 398.25 446.3 396 C447.18 393.75 447.73 392.8 448.6 391.5 C449.47 390.2 450.38 389.15 451.5 388.2 C452.62 387.25 454 386.4 455.3 385.8 C456.6 385.2 457.35 384.95 459.3 384.6 C461.25 384.25 462.05 383.9 467 383.7 C471.95 383.5 485.33 383.45 489 383.4" fill="none" stroke="#151515" stroke-width="1.3" stroke-linejoin="round" stroke-linecap="round" />
<path d="M296.5 493.7 C298.38 493.58 303.93 493.2 307.8 493 C311.67 492.8 315.75 492.47 319.7 492.5 C323.65 492.53 327.57 493 331.5 493.2 C335.43 493.4 339.35 493.5 343.3 493.7 C347.25 493.9 351.25 494.17 355.2 494.4 C359.15 494.63 362.87 494.87 367 495.1 C371.13 495.33 376.18 495.63 380 495.8 C383.82 495.97 386.62 495.97 389.9 496.1 C393.18 496.23 397.35 496.53 399.7 496.6 C402.05 496.67 402.68 496.58 404 496.5 C405.32 496.42 406.6 496.45 407.6 496.1 C408.6 495.75 408.87 495.2 410 494.4 C411.13 493.6 412.95 492.73 414.4 491.3 C415.85 489.87 417.43 487.63 418.7 485.8 C419.97 483.97 421.07 482.1 422 480.3 C422.93 478.5 423.45 477.55 424.3 475 C425.15 472.45 426.22 468.33 427.1 465 C427.98 461.67 428.8 458.33 429.6 455 C430.4 451.67 431.13 448.33 431.9 445 C432.67 441.67 433.4 438.33 434.2 435 C435 431.67 435.92 428.33 436.7 425 C437.48 421.67 438.07 418.33 438.9 415 C439.73 411.67 440.63 408.25 441.7 405 C442.77 401.75 444.32 397.87 445.3 395.5 C446.28 393.13 446.68 392.18 447.6 390.8 C448.52 389.42 449.62 388.15 450.8 387.2 C451.98 386.25 453.38 385.62 454.7 385.1 C456.02 384.58 456.72 384.37 458.7 384.1 C460.68 383.83 463.88 383.63 466.6 383.5 C469.32 383.37 471.27 383.35 475 383.3 C478.73 383.25 486.67 383.22 489 383.2" fill="none" stroke="#ff1010" stroke-width="1.3" stroke-linejoin="round" stroke-linecap="round" />
</svg></body></html>
